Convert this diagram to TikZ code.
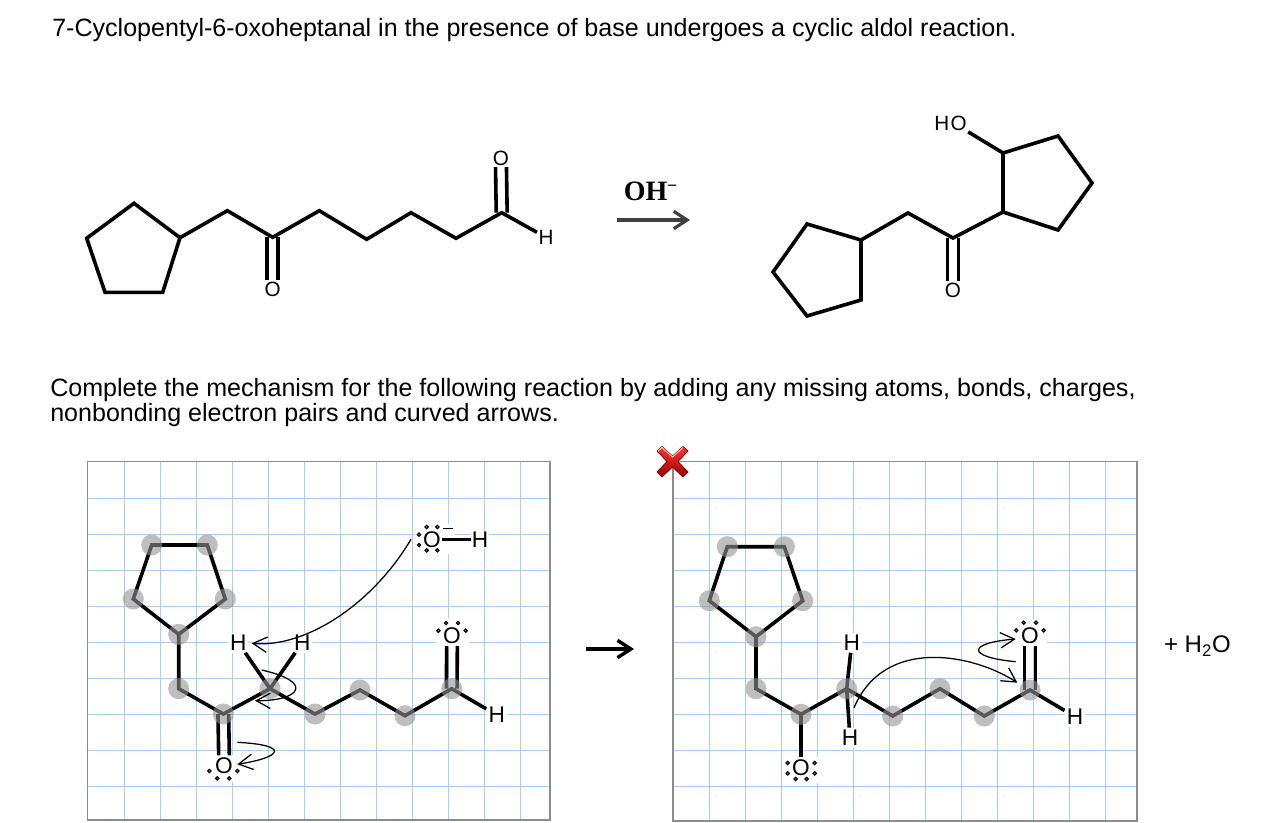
\documentclass[tikz,border=0pt]{standalone}
\usepackage{fontspec}
\setmainfont{Liberation Sans}
\newfontfamily\reagentfont{Liberation Serif}
\usetikzlibrary{arrows.meta}
\definecolor{gridblue}{HTML}{A9CDF2}
\definecolor{framegray}{HTML}{8C8C8C}
\definecolor{atomgray}{HTML}{939393}
\tikzset{
  bond/.style={line width=2.7pt},
  gridline/.style={gridblue,line width=1.1pt},
  frameline/.style={framegray,line width=1.2pt},
  atomdot/.style={fill=atomgray,opacity=0.6},
  epair/.style={draw=black,fill=gray,line width=0.8pt},
  curly/.style={line width=0.95pt,-{Straight Barb[length=10.5pt,width=11.5pt]}},
  atom/.style={font=\fontsize{17pt}{18pt}\selectfont,inner sep=1.5pt},
  topatom/.style={font=\fontsize{15.5pt}{16pt}\selectfont,inner sep=1pt},
  plaintext/.style={font=\fontsize{18.8pt}{19.2pt}\selectfont,anchor=west,align=left,inner sep=0pt}
}
\begin{document}
\begin{tikzpicture}[x=0.75pt,y=-0.75pt]
    \useasboundingbox (0,0) rectangle (1280,822);
    \node[plaintext] (title) at (52,30) {7-Cyclopentyl-6-oxoheptanal in the presence of base undergoes a cyclic aldol reaction.};
    \node[plaintext] (task) at (50,402.5) {Complete the mechanism for the following reaction by adding any missing atoms, bonds, charges,\\nonbonding electron pairs and curved arrows.};
    % starting material
    \coordinate (s1) at (180,237.7);
    \coordinate (s2) at (134,203.3);
    \coordinate (s3) at (86.7,238.3);
    \coordinate (s4) at (105,292.3);
    \coordinate (s5) at (162.7,292.3);
    \coordinate (s6) at (227.3,210.7);
    \coordinate (s7) at (272.7,237.3);
    \coordinate (s8) at (319.3,210.7);
    \coordinate (s9) at (366.7,239.3);
    \coordinate (s10) at (411,212.7);
    \coordinate (s11) at (456,238.3);
    \coordinate (s12) at (501.7,212.7);
    \node[topatom] (so1) at (272.7,289.3) {O};
    \node[topatom] (so2) at (501,158.3) {O};
    \node[topatom] (sh) at (546,237.3) {H};
    \draw[bond] (s1) -- (s2) -- (s3) -- (s4) -- (s5) -- cycle;
    \draw[bond] (s1) -- (s6) -- (s7) -- (s8) -- (s9) -- (s10) -- (s11) -- (s12) -- (sh);
    \foreach \s in {-4.1pt,4.1pt} {
        \draw[bond] ([xshift=\s]s7) -- ([xshift=\s]so1.north);
        \draw[bond] ([xshift=\s]s12) -- ([xshift=\s]so2.south);
    }
    % reagent arrow
    \node[font=\reagentfont\fontsize{21pt}{22pt}\selectfont\bfseries,inner sep=0pt,anchor=west] (oh) at (623.5,191.5) {OH\raisebox{7pt}{\fontsize{13pt}{13pt}\selectfont−}};
    \coordinate (rs) at (617,220);
    \coordinate (re) at (690,220);
    \draw[line width=2.4pt,draw=black!75,-{Straight Barb[length=10pt,width=13pt]}] (rs) -- (re);
    % product
    \coordinate (p1) at (861,240);
    \coordinate (p2) at (807,224);
    \coordinate (p3) at (773,272);
    \coordinate (p4) at (807,316);
    \coordinate (p5) at (861,300);
    \coordinate (p6) at (908,213);
    \coordinate (p7) at (953,238);
    \coordinate (p8) at (1003,212);
    \coordinate (p9) at (1003,153);
    \coordinate (p10) at (1058,136);
    \coordinate (p11) at (1092,183);
    \coordinate (p12) at (1058,230);
    \node[topatom] (po) at (953,290) {O};
    \node[topatom] (pho) at (950.5,123) {H\hspace{1pt}O};
    \draw[bond] (p1) -- (p2) -- (p3) -- (p4) -- (p5) -- cycle;
    \draw[bond] (p1) -- (p6) -- (p7) -- (p8) -- (p9) -- (p10) -- (p11) -- (p12) -- (p8);
    \draw[bond] (p9) -- (pho.south east);
    \foreach \s in {-4.1pt,4.1pt}
        \draw[bond] ([xshift=\s]p7) -- ([xshift=\s]po.north);
    % grids
    \foreach \i in {0,...,11} {
        \draw[gridline] ({124.4+36*\i},461.5) -- ({124.4+36*\i},820);
        \draw[gridline] ({709.3+36*\i},461.5) -- ({709.3+36*\i},821);
    }
    \foreach \i in {0,...,8} {
        \draw[gridline] (87.5,{498.3+36*\i}) -- (550,{498.3+36*\i});
        \draw[gridline] (672.7,{498.3+36*\i}) -- (1137,{498.3+36*\i});
    }
    \draw[frameline] (87.5,461.5) rectangle (550,820);
    \draw[frameline] (672.7,461.5) rectangle (1137,821);
    % white behind the lone pairs
    \fill[white] (415,524) rectangle (455,554);
    \fill[white] (436,618) rectangle (469,647);
    \fill[white] (205,755) rectangle (242,782);
    \fill[white] (1013,619) rectangle (1047,647);
    \fill[white] (784,757) rectangle (818,783);
    % left panel
    \coordinate (a1) at (178.7,634.3);
    \coordinate (a2) at (133.3,599);
    \coordinate (a3) at (151.7,545);
    \coordinate (a4) at (207.3,545);
    \coordinate (a5) at (225.3,599);
    \coordinate (a6) at (178.7,688.7);
    \coordinate (a7) at (223.3,714);
    \coordinate (a8) at (270,688.7);
    \coordinate (a9) at (315,714);
    \coordinate (a10) at (360,690);
    \coordinate (a11) at (405,715.7);
    \coordinate (a12) at (451.7,688.7);
    \node[atom,fill=white] (ah1) at (238.3,642.7) {H};
    \node[atom,fill=white] (ah2) at (302.3,642.7) {H};
    \node[atom,fill=white] (ah3) at (496.7,715) {H};
    \node[atom] (ao1) at (224,765.7) {O};
    \node[atom] (ao2) at (452,635.7) {O};
    \node[atom,inner sep=0.5pt] (oo) at (432,539.3) {O};
    \node[atom,fill=white,inner sep=0.5pt] (oh1) at (480,539.3) {H};
    \draw[bond] (a1) -- (a2) -- (a3) -- (a4) -- (a5) -- cycle;
    \draw[bond] (a1) -- (a6) -- (a7) -- (a8) -- (a9) -- (a10) -- (a11) -- (a12) -- (ah3);
    \draw[bond] (a8) -- (ah1);
    \draw[bond] (a8) -- (ah2);
    \draw[bond] (oo) -- (oh1);
    \foreach \s in {-4pt,4pt} {
        \draw[bond] ([xshift=\s]a7) -- ([xshift=\s]ao1.north);
        \draw[bond] ([xshift=\s]a12) -- ([xshift=\s]ao2.south);
    }
    \foreach \a in {a1,a2,a3,a4,a5,a6,a7,a8,a9,a10,a11,a12}
        \fill[atomdot] (\a) circle (7.9pt);
    \foreach \p in {(419,534.7),(419,545),(426.7,527),(437.3,527),(426.7,550.3),(437.3,550.3),
                    (438.3,630.7),(446,623),(458,623),(465.7,630.7),
                    (209.3,771),(237.3,771),(217.3,778.3),(229.3,778.3)}
        \filldraw[epair] \p circle (1.3pt);
    \coordinate (m1) at (442.7,528.3);
    \coordinate (m2) at (452.7,528.3);
    \draw[line width=0.8pt] (m1) -- (m2);
    \coordinate (c1) at (411,539.3);
    \coordinate (c2) at (251.7,643.3);
    \coordinate (c3) at (261.7,670);
    \coordinate (c4) at (255,700.7);
    \coordinate (c5) at (237.3,742.3);
    \coordinate (c6) at (237.3,764.3);
    \draw[curly] (c1) .. controls (372,605) and (305,648) .. (c2);
    \draw[curly] (c3) .. controls (315,682) and (300,701) .. (c4);
    \draw[curly] (c5) .. controls (290,745) and (283,757) .. (c6);
    % middle arrow
    \coordinate (ms) at (586,649);
    \coordinate (me) at (634,649);
    \draw[line width=2.6pt,-{Straight Barb[length=10pt,width=13pt]}] (ms) -- (me);
    % right panel
    \coordinate (b1) at (756,636.7);
    \coordinate (b2) at (709.3,600.7);
    \coordinate (b3) at (727.3,546.7);
    \coordinate (b4) at (784.3,546.7);
    \coordinate (b5) at (802.7,600.7);
    \coordinate (b6) at (756,688.7);
    \coordinate (b7) at (801,714.3);
    \coordinate (b8) at (846.7,688.7);
    \coordinate (b9) at (892.7,716);
    \coordinate (b10) at (940,688.7);
    \coordinate (b11) at (984.3,716);
    \coordinate (b12) at (1030,690);
    \node[atom,fill=white] (bh1) at (851.7,642.7) {H};
    \node[atom,fill=white] (bh2) at (850,737.7) {H};
    \node[atom,fill=white] (bh3) at (1075,716.7) {H};
    \node[atom] (bo1) at (801,767.3) {O};
    \node[atom] (bo2) at (1030,635.7) {O};
    \draw[bond] (b1) -- (b2) -- (b3) -- (b4) -- (b5) -- cycle;
    \draw[bond] (b1) -- (b6) -- (b7) -- (b8) -- (b9) -- (b10) -- (b11) -- (b12) -- (bh3);
    \draw[bond] (b8) -- (bh1);
    \draw[bond] (b8) -- (bh2);
    \draw[bond] (b7) -- (bo1);
    \foreach \s in {-4pt,4pt}
        \draw[bond] ([xshift=\s]b12) -- ([xshift=\s]bo2.south);
    \foreach \a in {b1,b2,b3,b4,b5,b6,b7,b8,b9,b10,b11,b12}
        \fill[atomdot] (\a) circle (7.9pt);
    \foreach \p in {(787.7,763),(787.7,773.3),(814.7,763),(814.7,773.3),(795.7,779),(806.7,779),
                    (1016.3,630.3),(1023.7,622.7),(1036,622.7),(1043.7,630.3)}
        \filldraw[epair] \p circle (1.3pt);
    \coordinate (d1) at (854,707.7);
    \coordinate (d2) at (1017.3,682.7);
    \coordinate (d3) at (1015.7,661.7);
    \coordinate (d4) at (1015.7,639);
    \draw[curly] (d1) .. controls (885,635) and (975,655) .. (d2);
    \draw[curly] (d3) .. controls (966,657) and (967,643) .. (d4);
    \node[font=\fontsize{18pt}{19pt}\selectfont,inner sep=0pt,anchor=east] (water) at (1231,646) {+ H\textsubscript{2}O};
    % red cross
    \fill[draw=red!45!black,line width=0.5pt,top color=red!80!white,bottom color=red!65!black]
        (672.5,456) -- (683,446.5) -- (688,451) -- (678,461.5) -- (688,472) -- (683,477) -- (672.5,467)
        -- (662,477) -- (657,472) -- (667,461.5) -- (657,451) -- (662,446.5) -- cycle;
    \draw[red!25!white,line width=0.8pt] (658,451) -- (662,447.5) -- (672.5,457) -- (683,447.5);
\end{tikzpicture}
\end{document}
